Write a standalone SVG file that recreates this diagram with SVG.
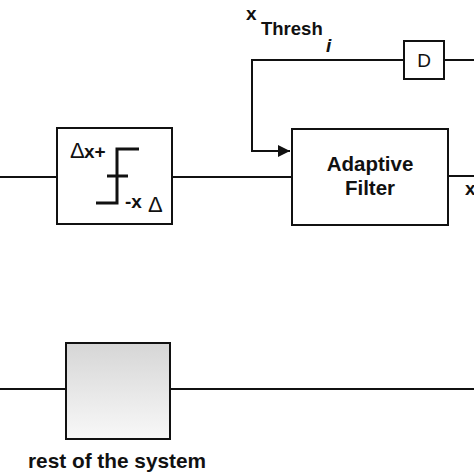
<svg xmlns="http://www.w3.org/2000/svg" width="474" height="474" viewBox="0 0 474 474">
<style>
.box{fill:#fff;stroke:#111;stroke-width:2}
.ln{fill:none;stroke:#111;stroke-width:2}
.b{font-family:"Liberation Sans",Arial,sans-serif;font-weight:bold;fill:#111}
.r{font-family:"Liberation Sans",Arial,sans-serif;fill:#111}
</style>
<defs>
<linearGradient id="g" x1="0" y1="0" x2="0" y2="1">
<stop offset="0" stop-color="#d6d6d6"/>
<stop offset="1" stop-color="#f8f8f8"/>
</linearGradient>
<marker id="ah" viewBox="0 0 10 10" refX="10" refY="5" markerWidth="8" markerHeight="6" markerUnits="strokeWidth" orient="auto">
<path d="M0,0 L10,5 L0,10 z" fill="#111"/>
</marker>
</defs>
<g id="connectors">
<path class="ln" d="M0,177 H57"/>
<path class="ln" d="M172,177 H292"/>
<path class="ln" d="M404,60 H252 V151 H290" marker-end="url(#ah)"/>
<path class="ln" d="M444,60 H474"/>
<path class="ln" d="M448,176 H474"/>
<path class="ln" d="M0,389 H66"/>
<path class="ln" d="M170,389 H474"/>
</g>
<g id="threshold">
<rect class="box" x="57" y="128" width="115" height="96"/>
<path d="M139,149 H117 V203 H96 M107,176 H128" style="fill:none;stroke:#111;stroke-width:3"/>
<text class="r" x="70" y="158" font-size="22">Δ</text>
<text class="b" x="84" y="158" font-size="19">x+</text>
<text class="b" x="125" y="208" font-size="19">-x</text>
<text class="r" x="148" y="212" font-size="22">Δ</text>
</g>
<g id="delay">
<rect class="box" x="404" y="41" width="40" height="38"/>
<text class="r" x="424" y="67" font-size="19" text-anchor="middle">D</text>
</g>
<g id="adaptive-filter">
<rect class="box" x="292" y="129" width="156" height="96"/>
<text class="b" x="370" y="171" font-size="20.5" text-anchor="middle">Adaptive</text>
<text class="b" x="370" y="195" font-size="20.5" text-anchor="middle">Filter</text>
</g>
<g id="xthresh-label">
<text class="b" x="246" y="20" font-size="19">x</text>
<text class="b" x="261" y="35" font-size="18.5">Thresh</text>
<text class="b" x="326" y="52" font-size="19" font-style="italic">i</text>
</g>
<text class="b" x="465" y="195" font-size="19">x</text>
<g id="rest">
<rect x="66" y="343" width="104" height="96" fill="url(#g)" stroke="#111" stroke-width="2"/>
<text class="b" x="28" y="468" font-size="20.8">rest of the system</text>
</g>
</svg>
